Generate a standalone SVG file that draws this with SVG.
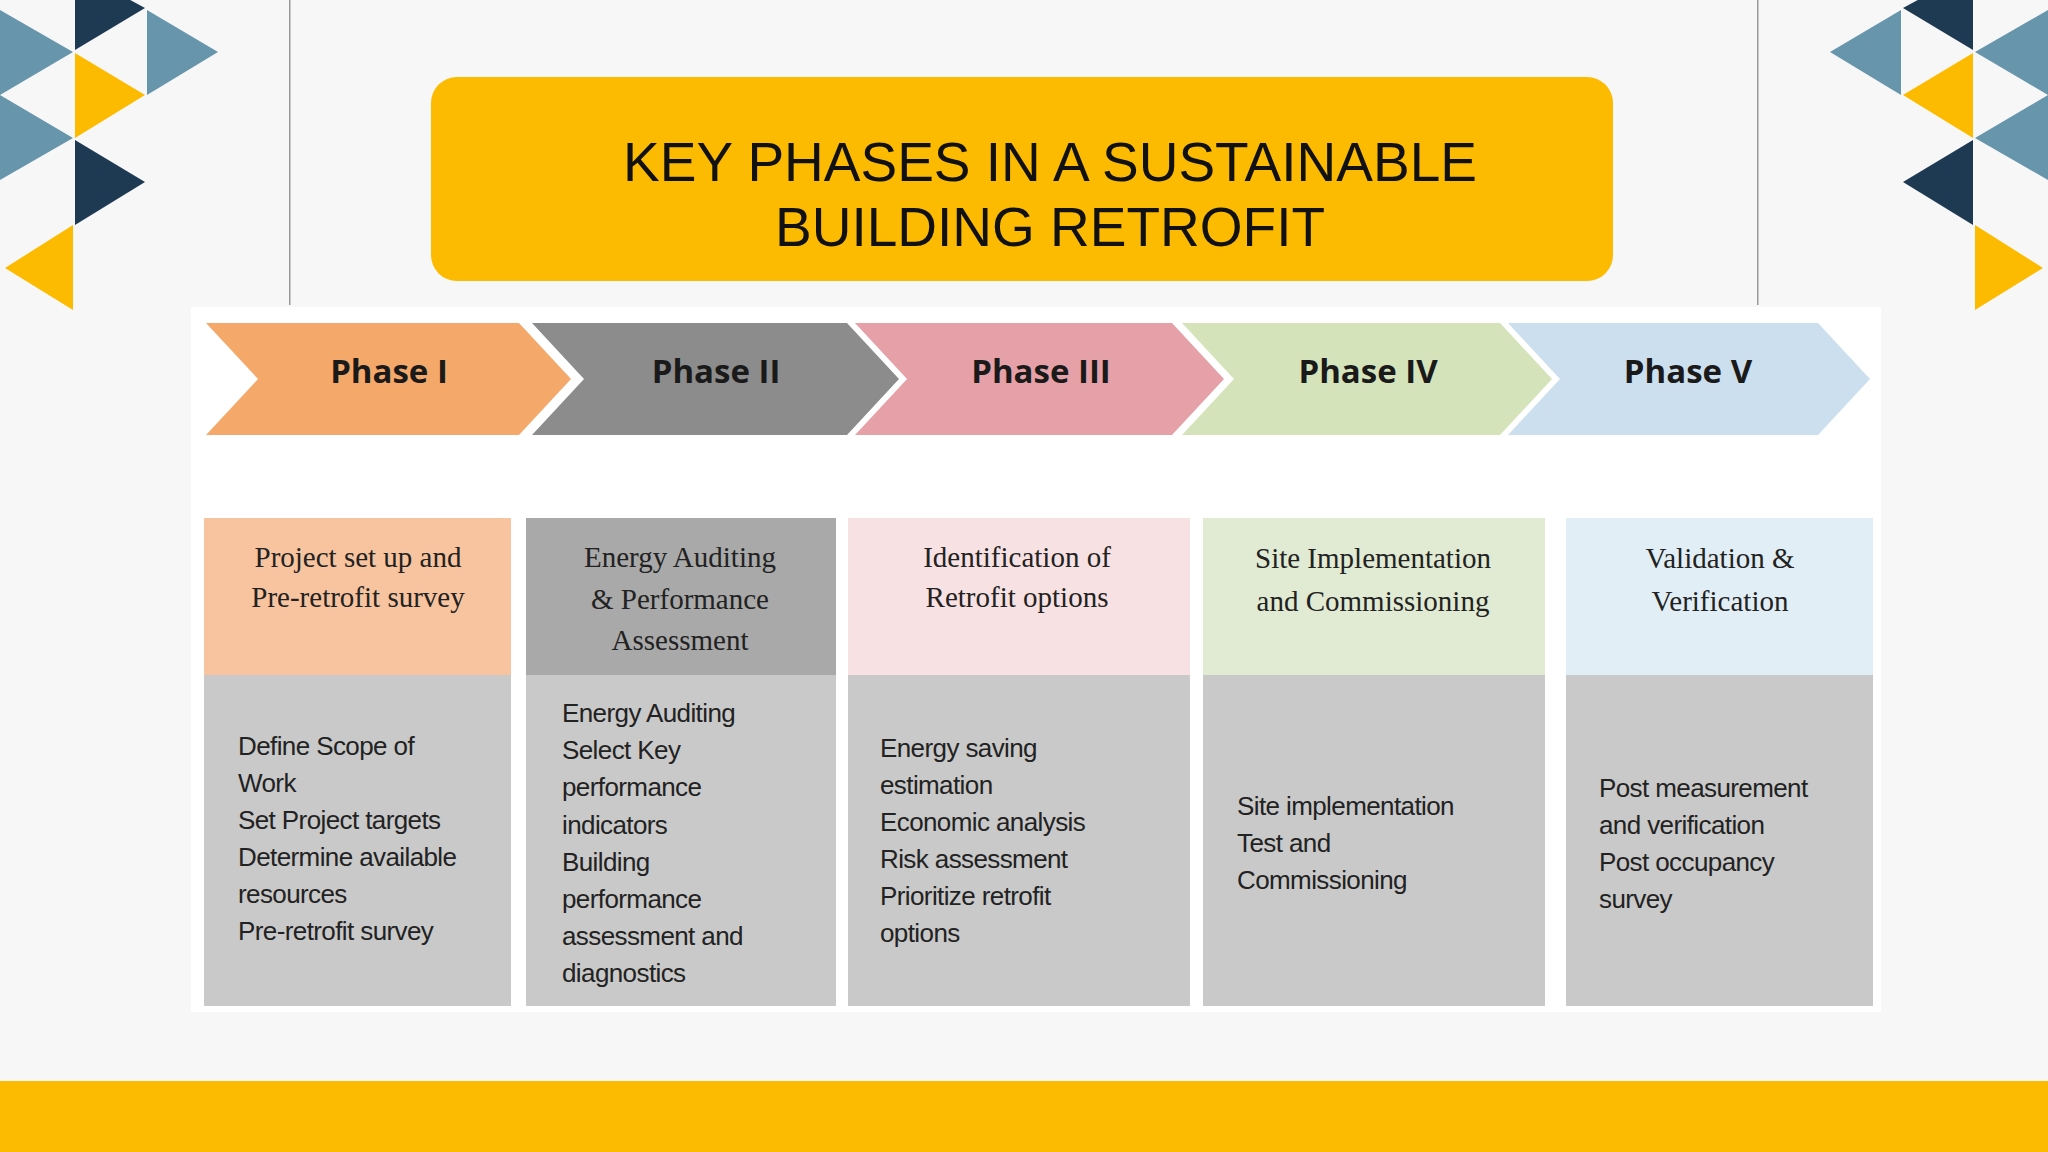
<svg xmlns="http://www.w3.org/2000/svg" width="2048" height="1152" viewBox="0 0 2048 1152">
<defs><style>
.nv{fill:#1E3A52}.st{fill:#6795AB}.yl{fill:#FDBB00}
.ph{font-family:"Open Sans","Liberation Sans",sans-serif;font-weight:bold;font-size:33px;fill:#1a1a1a;text-anchor:middle}
.hd{font-family:"Liberation Serif",serif;font-size:29px;fill:#222;text-anchor:middle}
.bd{font-family:"Liberation Sans",sans-serif;font-size:26px;fill:#222;letter-spacing:-0.6px}
.body{fill:#C9C9C9}
</style></defs>
<rect width="2048" height="1152" fill="#F7F7F7"/>
<g id="deco-left">
<polygon class="nv" points="75,-30 145,8 75,50"/>
<polygon class="st" points="0,10 73,52 0,95"/>
<polygon class="st" points="147,10 218,52 147,95"/>
<polygon class="yl" points="75,53 145,95 75,138"/>
<polygon class="st" points="0,95 73,138 0,180"/>
<polygon class="nv" points="75,140 145,182 75,225"/>
<polygon class="yl" points="73,225 5,268 73,310"/>
<rect x="289" y="0" width="1.5" height="305" fill="#999"/>
</g>
<g id="deco-right">
<polygon class="nv" points="1973,-30 1903,8 1973,50"/>
<polygon class="st" points="2048,10 1975,52 2048,95"/>
<polygon class="st" points="1901,10 1830,52 1901,95"/>
<polygon class="yl" points="1973,53 1903,95 1973,138"/>
<polygon class="st" points="2048,95 1975,138 2048,180"/>
<polygon class="nv" points="1973,140 1903,182 1973,225"/>
<polygon class="yl" points="1975,225 2043,268 1975,310"/>
<rect x="1757" y="0" width="1.5" height="305" fill="#999"/>
</g>
<g id="title">
<rect x="431" y="77" width="1182" height="204" rx="26" fill="#FDBB00"/>
<text x="1050" y="181" font-family="Liberation Sans,Arial,sans-serif" font-size="55" text-anchor="middle" fill="#111">KEY PHASES IN A SUSTAINABLE</text>
<text x="1050" y="246" font-family="Liberation Sans,Arial,sans-serif" font-size="55" text-anchor="middle" fill="#111">BUILDING RETROFIT</text>
</g>
<rect x="1030" y="1081" width="1" height="0" fill="none"/>
<rect x="0" y="1081" width="2048" height="71" fill="#FDBB00"/>
<rect x="191" y="307" width="1690" height="705" fill="#FFFFFF"/>
<g id="chevrons">
<g id="phase1"><polygon points="206,323 519,323 571,379 519,435 206,435 258,379" fill="#F4A86A"/><text class="ph" x="389" y="383">Phase I</text></g>
<g id="phase2"><polygon points="532,323 847,323 899,379 847,435 532,435 584,379" fill="#8C8C8C"/><text class="ph" x="716" y="383">Phase II</text></g>
<g id="phase3"><polygon points="855,323 1172,323 1224,379 1172,435 855,435 907,379" fill="#E6A1A8"/><text class="ph" x="1041" y="383">Phase III</text></g>
<g id="phase4"><polygon points="1182,323 1500,323 1552,379 1500,435 1182,435 1234,379" fill="#D5E3BB"/><text class="ph" x="1368" y="383">Phase IV</text></g>
<g id="phase5"><polygon points="1508,323 1818,323 1870,379 1818,435 1508,435 1560,379" fill="#CCDFEE"/><text class="ph" x="1688" y="383">Phase V</text></g>
</g>
<g id="col1">
<rect x="204" y="518" width="307" height="157" fill="#F8C49F"/><rect class="body" x="204" y="675" width="307" height="331"/>
<text class="hd" x="358" y="567">Project set up and</text><text class="hd" x="358" y="607">Pre-retrofit survey</text>
<text class="bd" x="238" y="755">Define Scope of</text><text class="bd" x="238" y="792">Work</text><text class="bd" x="238" y="829">Set Project targets</text><text class="bd" x="238" y="866">Determine available</text><text class="bd" x="238" y="903">resources</text><text class="bd" x="238" y="940">Pre-retrofit survey</text>
</g>
<g id="col2">
<rect x="526" y="518" width="310" height="157" fill="#A9A9A9"/><rect class="body" x="526" y="675" width="310" height="331"/>
<text class="hd" x="680" y="567">Energy Auditing</text><text class="hd" x="680" y="609">&amp; Performance</text><text class="hd" x="680" y="650">Assessment</text>
<text class="bd" x="562" y="722">Energy Auditing</text><text class="bd" x="562" y="759">Select Key</text><text class="bd" x="562" y="796">performance</text><text class="bd" x="562" y="834">indicators</text><text class="bd" x="562" y="871">Building</text><text class="bd" x="562" y="908">performance</text><text class="bd" x="562" y="945">assessment and</text><text class="bd" x="562" y="982">diagnostics</text>
</g>
<g id="col3">
<rect x="848" y="518" width="342" height="157" fill="#F8E1E3"/><rect class="body" x="848" y="675" width="342" height="331"/>
<text class="hd" x="1017" y="567">Identification of</text><text class="hd" x="1017" y="607">Retrofit options</text>
<text class="bd" x="880" y="757">Energy saving</text><text class="bd" x="880" y="794">estimation</text><text class="bd" x="880" y="831">Economic analysis</text><text class="bd" x="880" y="868">Risk assessment</text><text class="bd" x="880" y="905">Prioritize retrofit</text><text class="bd" x="880" y="942">options</text>
</g>
<g id="col4">
<rect x="1203" y="518" width="342" height="157" fill="#E1EBD3"/><rect class="body" x="1203" y="675" width="342" height="331"/>
<text class="hd" x="1373" y="568">Site Implementation</text><text class="hd" x="1373" y="611">and Commissioning</text>
<text class="bd" x="1237" y="815">Site implementation</text><text class="bd" x="1237" y="852">Test and</text><text class="bd" x="1237" y="889">Commissioning</text>
</g>
<g id="col5">
<rect x="1566" y="518" width="307" height="157" fill="#E1EEF5"/><rect class="body" x="1566" y="675" width="307" height="331"/>
<text class="hd" x="1720" y="568">Validation &amp;</text><text class="hd" x="1720" y="611">Verification</text>
<text class="bd" x="1599" y="797">Post measurement</text><text class="bd" x="1599" y="834">and verification</text><text class="bd" x="1599" y="871">Post occupancy</text><text class="bd" x="1599" y="908">survey</text>
</g>
<g id="connectors"></g>
</svg>
